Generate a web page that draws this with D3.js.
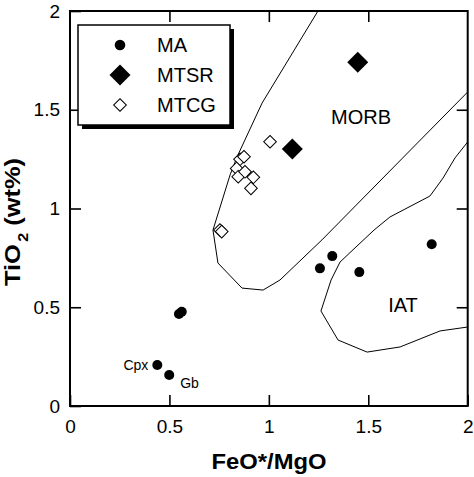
<!DOCTYPE html>
<html>
<head>
<meta charset="utf-8">
<script src="https://cdn.jsdelivr.net/npm/d3@7"></script>
<style>
  body { margin: 0; background: #fff; }
  svg { display: block; font-family: "Liberation Sans", Arial, sans-serif; }
</style>
</head>
<body>
<svg id="canvas"></svg>
<script>
// MA samples (filled circles)
let maFeo = [0.439, 0.499, 0.548, 0.562, 1.257, 1.319, 1.455, 1.819]
let maTio = [0.208, 0.157, 0.466, 0.477, 0.697, 0.759, 0.678, 0.819]
// MTSR (filled diamonds)
let mtsrFeo = [1.447, 1.118]
let mtsrTio = [1.740, 1.301]
// MTCG (open diamonds)
let mtcgFeo = [1.006, 0.855, 0.875, 0.838, 0.846, 0.880, 0.922, 0.910, 0.754, 0.763]
let mtcgTio = [1.338, 1.249, 1.262, 1.203, 1.161, 1.186, 1.158, 1.102, 0.891, 0.883]
// field boundaries
let morbFeo = [1.247, 0.966, 0.840, 0.805, 0.719, 0.744, 0.865, 0.971, 1.056, 1.267, 2.0]
let morbTio = [2.0, 1.534, 1.261, 1.170, 0.891, 0.724, 0.597, 0.587, 0.638, 0.841, 1.590]
let iatFeo = [2.0, 1.936, 1.876, 1.810, 1.609, 1.529, 1.358, 1.313, 1.262, 1.348, 1.494, 1.660, 1.861, 2.0]
let iatTio = [1.337, 1.256, 1.154, 1.063, 0.957, 0.891, 0.729, 0.638, 0.481, 0.334, 0.273, 0.299, 0.380, 0.400]

let tickValues = [0, 0.5, 1, 1.5, 2]
let legendNames = ['MA', 'MTSR', 'MTCG']

const width = 474
const height = 477
const padLeft = 70, padRight = 467.7, padTop = 11, padBottom = 406

let svg = d3.select('#canvas').attr('width', width).attr('height', height)

let xScale = d3.scaleLinear().domain([0, 2]).range([padLeft, padRight])
let yScale = d3.scaleLinear().domain([0, 2]).range([padBottom, padTop])

let fmt = d => d3.format('')(d)

// axes, ticks pointing inward
let drawAxes = () => {
    let xAxis = d3.axisBottom(xScale).tickValues(tickValues).tickFormat(fmt)
                  .tickSizeInner(-11).tickSizeOuter(0).tickPadding(14)
    let yAxis = d3.axisLeft(yScale).tickValues(tickValues).tickFormat(fmt)
                  .tickSizeInner(-11).tickSizeOuter(0).tickPadding(10)
    let xTop = d3.axisTop(xScale).tickValues(tickValues.slice(1, 4)).tickFormat('')
                  .tickSizeInner(-11).tickSizeOuter(0)
    let yRight = d3.axisRight(yScale).tickValues(tickValues.slice(1, 4)).tickFormat('')
                  .tickSizeInner(-11).tickSizeOuter(0)

    svg.append('g').attr('transform', 'translate(0,' + padBottom + ')').call(xAxis)
    svg.append('g').attr('transform', 'translate(' + padLeft + ',0)').call(yAxis)
    svg.append('g').attr('transform', 'translate(0,' + padTop + ')').call(xTop)
    svg.append('g').attr('transform', 'translate(' + padRight + ',0)').call(yRight)

    svg.selectAll('.domain').remove()
    svg.selectAll('.tick line').attr('stroke', '#000').attr('stroke-width', 1.6)
    svg.selectAll('.tick text').attr('fill', '#000').style('font-size', '19px')
        .style('font-family', '"Liberation Sans", Arial, sans-serif')

    svg.append('rect')
        .attr('x', padLeft).attr('y', padTop)
        .attr('width', padRight - padLeft).attr('height', padBottom - padTop)
        .attr('fill', 'none').attr('stroke', '#000').attr('stroke-width', 2)

    svg.append('text')
        .attr('x', 269).attr('y', 469)
        .attr('text-anchor', 'middle')
        .attr('textLength', 115).attr('lengthAdjust', 'spacingAndGlyphs')
        .style('font-size', '22px').style('font-weight', 'bold')
        .text('FeO*/MgO')

    let yt = svg.append('text')
        .attr('transform', 'translate(20,222) rotate(-90)')
        .attr('text-anchor', 'middle')
        .attr('textLength', 128).attr('lengthAdjust', 'spacingAndGlyphs')
        .style('font-size', '22px').style('font-weight', 'bold')
    yt.append('tspan').text('TiO')
    yt.append('tspan').attr('dx', 2).attr('dy', 8).style('font-size', '14px').text('2')
    yt.append('tspan').attr('dy', -8).text(' (wt%)')
}

let drawFields = () => {
    let line = d3.line().x(d => xScale(d[0])).y(d => yScale(d[1]))
    let morb = morbFeo.map((v, i) => [v, morbTio[i]])
    let iat = iatFeo.map((v, i) => [v, iatTio[i]])
    ;[morb, iat].forEach(pts => {
        svg.append('path').attr('d', line(pts))
            .attr('fill', 'none').attr('stroke', '#000').attr('stroke-width', 1)
    })
    svg.append('text').attr('x', 361).attr('y', 124).attr('text-anchor', 'middle')
        .style('font-size', '20px').text('MORB')
    svg.append('text').attr('x', 403).attr('y', 312).attr('text-anchor', 'middle')
        .style('font-size', '20px').text('IAT')
    svg.append('text').attr('x', xScale(maFeo[0]) - 9).attr('y', yScale(maTio[0]) + 5)
        .attr('text-anchor', 'end').style('font-size', '14px').text('Cpx')
    svg.append('text').attr('x', xScale(maFeo[1]) + 11).attr('y', yScale(maTio[1]) + 13)
        .style('font-size', '14px').text('Gb')
}

let bigDiamond = d3.symbol().type(d3.symbolSquare).size(220)
let smallDiamond = d3.symbol().type(d3.symbolSquare).size(80)

let drawPoints = () => {
    svg.selectAll('.ma')
        .data(maFeo.map((v, i) => [v, maTio[i]]))
        .enter().append('circle')
        .attr('cx', d => xScale(d[0])).attr('cy', d => yScale(d[1]))
        .attr('r', 5).attr('fill', '#000')

    svg.selectAll('.mtsr')
        .data(mtsrFeo.map((v, i) => [v, mtsrTio[i]]))
        .enter().append('path')
        .attr('d', bigDiamond)
        .attr('transform', d => 'translate(' + xScale(d[0]) + ',' + yScale(d[1]) + ') rotate(45)')
        .attr('fill', '#000')

    svg.selectAll('.mtcg')
        .data(mtcgFeo.map((v, i) => [v, mtcgTio[i]]))
        .enter().append('path')
        .attr('d', smallDiamond)
        .attr('transform', d => 'translate(' + xScale(d[0]) + ',' + yScale(d[1]) + ') rotate(45)')
        .attr('fill', '#fff').attr('stroke', '#000').attr('stroke-width', 1)
}

let drawLegend = () => {
    let g = svg.append('g')
    g.append('rect').attr('x', 82).attr('y', 29).attr('width', 152).attr('height', 100).attr('fill', '#000')
    g.append('rect').attr('x', 78).attr('y', 25).attr('width', 152).attr('height', 100)
        .attr('fill', '#fff').attr('stroke', '#000').attr('stroke-width', 1.5)
    let ys = [45, 75, 105]
    g.append('circle').attr('cx', 120).attr('cy', ys[0]).attr('r', 5.3).attr('fill', '#000')
    g.append('path').attr('d', bigDiamond).attr('transform', 'translate(120,' + ys[1] + ') rotate(45)')
        .attr('fill', '#000')
    g.append('path').attr('d', smallDiamond).attr('transform', 'translate(120,' + ys[2] + ') rotate(45)')
        .attr('fill', '#fff').attr('stroke', '#000').attr('stroke-width', 1)
    legendNames.forEach((n, i) => {
        g.append('text').attr('x', 157).attr('y', ys[i]).attr('dy', '0.36em')
            .style('font-size', '20px').text(n)
    })
}

drawFields()
drawPoints()
drawAxes()
drawLegend()
</script>
</body>
</html>
